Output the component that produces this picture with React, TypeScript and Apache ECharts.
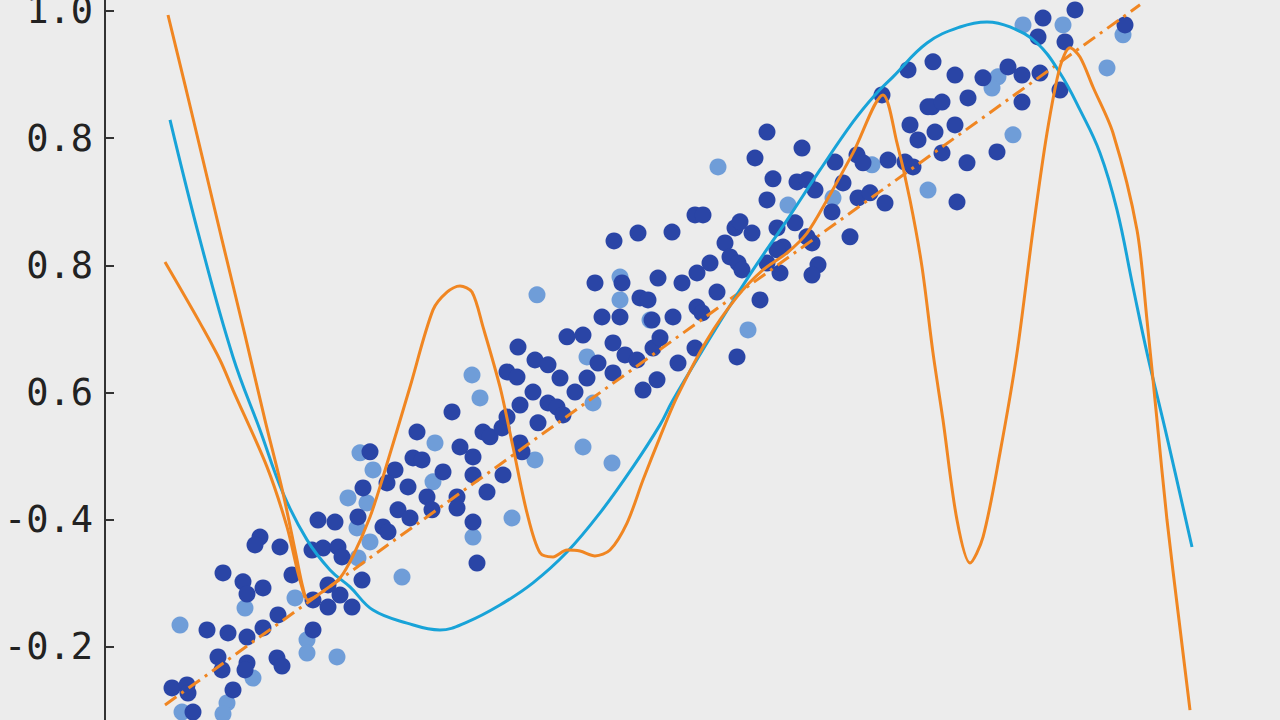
import React, { useEffect, useRef } from "react";
import * as echarts from "echarts";

// y tick positions (axis units) and their printed labels
const yTickValues = [0, 5, 10, 15, 20, 25];
const yTickLabels = ["-0.2", "-0.4", "0.6", "0.8", "0.8", "1.0"];

const darkDots: number[][] = [
  [2.68, -1.61], [3.28, -1.49], [3.32, -1.81], [3.52, -2.56], [4.08, 0.67], [4.92, 0.55], [5.68, 0.39], [6.32, 0.75], [6.92, 1.26],
  [4.52, -0.39], [4.68, -0.9], [5.68, -0.63], [5.6, -0.9], [6.88, -0.43], [7.08, -0.75], [5.12, -1.69], [8.32, 0.67],
  [4.72, 2.91], [5.52, 2.56], [5.68, 2.08], [6.32, 2.32], [7.48, 2.83], [8.92, 2.44], [9.4, 2.04], [10.28, 2.63], [8.32, 1.85], [8.92, 1.57], [9.88, 1.57],
  [6.2, 4.32], [6.0, 4.01], [7.0, 3.93], [8.28, 3.81], [8.72, 3.89], [9.32, 3.93], [9.48, 3.54], [8.52, 4.99], [9.2, 4.91], [10.12, 5.11],
  [10.32, 6.25], [10.6, 7.67], [12.32, 7.43], [12.68, 7.35], [11.6, 6.96], [11.28, 6.45], [12.12, 6.29], [12.88, 5.9], [11.72, 5.39], [12.2, 5.07], [11.12, 4.72], [11.32, 4.52], [13.08, 5.39],
  [13.88, 9.24], [12.48, 8.45], [13.52, 6.88], [14.72, 6.76], [15.92, 6.76], [14.08, 5.9], [15.28, 6.09], [14.08, 5.46], [14.72, 4.91], [14.88, 3.3],
  [14.2, 7.86], [14.72, 7.47], [15.12, 8.45], [15.4, 8.26], [15.88, 8.61], [16.08, 9.04], [16.6, 9.51], [17.32, 8.81], [16.6, 8.02], [16.68, 7.67], [17.72, 9.59], [18.08, 9.43], [18.32, 9.12], [17.12, 10.02],
  [16.08, 10.81], [16.48, 10.61], [16.52, 11.79], [17.2, 11.28], [17.72, 11.09], [18.2, 10.57], [18.8, 10.02], [19.28, 10.57], [19.72, 11.16], [20.32, 10.77], [18.48, 12.19], [19.12, 12.26], [20.32, 11.95], [20.8, 11.48], [21.28, 11.28], [21.92, 11.75], [21.52, 10.1], [22.08, 10.5],
  [19.88, 12.97], [20.6, 12.97], [19.6, 14.31], [20.68, 14.31], [22.12, 14.5], [21.4, 13.72], [21.72, 13.64],
  [26.48, 20.24], [27.88, 19.61], [26.0, 19.22], [26.72, 18.4], [27.68, 18.28], [28.08, 18.36], [26.48, 17.57], [28.4, 17.96], [29.2, 19.06], [30.08, 19.34], [30.32, 19.03], [31.32, 19.14], [32.0, 19.06], [32.32, 18.87], [32.2, 20.52], [32.52, 19.93], [33.08, 21.23], [33.2, 20.24],
  [29.52, 18.24], [29.08, 17.1], [30.12, 17.65], [30.6, 17.85], [31.2, 17.45], [29.8, 16.12], [28.28, 15.88],
  [23.6, 16.98], [23.92, 16.98], [21.32, 16.27], [22.68, 16.31], [25.2, 16.47], [25.4, 16.71], [25.88, 16.27], [24.8, 15.88], [26.88, 16.47], [27.6, 16.67], [27.12, 15.72], [28.08, 16.12],
  [24.2, 15.09], [23.68, 14.7], [25.0, 15.33], [25.32, 15.09], [25.48, 14.82], [24.48, 13.95], [23.08, 14.31], [27.0, 14.7], [26.2, 13.64], [28.52, 15.02], [28.28, 14.62],
  [22.72, 12.97], [23.68, 13.36], [23.88, 13.13], [21.88, 12.85], [25.28, 11.4], [22.2, 12.15], [22.92, 11.16], [23.6, 11.75], [26.48, 15.09], [26.88, 15.61], [20.36, 15.96],
  [38.8, 25.04], [37.52, 24.72], [37.32, 23.98], [38.4, 23.78], [40.8, 24.45], [32.12, 22.68], [33.12, 23.0], [34.0, 22.48], [35.12, 22.37], [36.12, 22.8], [36.68, 22.48], [37.4, 22.56],
  [31.08, 21.7], [32.92, 21.23], [33.48, 21.42], [34.52, 21.58], [36.68, 21.42], [38.2, 21.89], [34.0, 20.52], [35.68, 19.46], [33.48, 19.42], [34.48, 19.03], [34.08, 17.49],
];

const lightDots: number[][] = [
  [3.0, 0.86], [3.08, -2.56], [4.88, -2.2], [4.72, -2.63], [5.92, -1.22], [5.6, 1.53], [7.6, 1.93], [8.08, 0.28], [8.08, -0.24], [9.28, -0.39],
  [10.12, 3.5], [10.08, 4.68], [10.6, 4.13], [9.72, 5.86], [10.48, 5.66], [10.72, 6.96], [10.2, 7.63], [13.2, 8.02], [13.12, 6.49], [11.88, 2.75],
  [14.68, 10.69], [15.0, 9.79], [14.72, 4.32], [16.28, 5.07], [17.2, 7.35], [19.12, 7.86], [20.28, 7.23], [19.52, 9.59], [19.28, 11.4], [17.28, 13.84],
  [20.6, 14.54], [20.6, 13.64], [21.8, 12.85], [24.52, 18.87], [27.32, 17.37], [29.12, 17.65], [25.72, 12.46], [32.92, 17.96], [30.68, 18.95],
  [36.72, 24.45], [38.32, 24.45], [40.72, 24.06], [40.08, 22.76], [35.72, 22.41], [35.48, 21.97], [36.32, 20.13],
];

const cyanCurve: number[][] = [
  [2.6, 20.72], [3.8, 16.0], [5.12, 11.4], [6.2, 8.53], [7.12, 6.05], [8.08, 4.21], [9.0, 3.03], [9.8, 2.36], [10.72, 1.45], [12.08, 0.94], [13.4, 0.67],
  [14.48, 0.98], [15.8, 1.65], [17.12, 2.52], [18.48, 3.73], [19.8, 5.27], [21.12, 7.08], [22.2, 8.73], [22.72, 9.71], [24.6, 12.78], [25.92, 14.82],
  [27.28, 16.78], [28.6, 18.75], [29.92, 20.64], [30.8, 21.7], [31.52, 22.41], [32.88, 23.74], [34.2, 24.37], [35.28, 24.57], [36.2, 24.37], [37.28, 23.74],
  [38.2, 22.56], [39.0, 21.11], [39.8, 19.42], [40.48, 17.18], [41.12, 14.15], [41.68, 11.56], [42.48, 8.25], [43.48, 3.93],
];

const orangeCurveA: number[][] = [
  [2.52, 24.84], [3.2, 22.09], [3.92, 19.14], [4.68, 16.0], [5.6, 12.26], [6.4, 8.92], [7.12, 6.05], [7.64, 3.62], [7.92, 2.32], [8.12, 1.85],
  [8.8, 2.24], [9.4, 2.71], [9.92, 3.58], [10.6, 5.11], [11.12, 6.68], [12.2, 10.22], [13.12, 13.25], [13.68, 13.95], [14.2, 14.19], [14.68, 13.95],
  [15.12, 12.58], [15.8, 10.22], [16.32, 7.86], [16.88, 5.27], [17.4, 3.7], [17.92, 3.54], [18.48, 3.81], [19.0, 3.77], [19.6, 3.58], [20.2, 3.81],
  [20.88, 4.87], [21.52, 6.56], [22.2, 8.25], [22.88, 9.83], [24.08, 12.07], [25.28, 13.76], [26.32, 14.82], [27.28, 15.49], [28.08, 16.27], [28.88, 17.57],
  [29.92, 19.42], [31.12, 21.7], [31.68, 19.81], [32.2, 17.57], [32.68, 14.94], [33.12, 11.56], [33.52, 8.92], [34.08, 4.99], [34.6, 3.3], [35.12, 4.32],
  [35.8, 7.63], [36.48, 11.56], [37.12, 16.39], [37.68, 20.2], [38.2, 22.8], [38.6, 23.55], [39.0, 23.19], [39.52, 22.01], [40.32, 20.2], [41.28, 16.39],
  [41.68, 12.85], [42.08, 8.92], [42.48, 4.99], [42.96, 1.06], [43.4, -2.48],
];

const orangeCurveB: number[][] = [
  [2.4, 15.13], [3.28, 13.64], [3.8, 12.74], [4.6, 11.28], [5.12, 10.1], [6.48, 7.08], [7.28, 4.72], [7.72, 2.91], [8.0, 1.93],
];

const trendLine: number[][] = [
  [2.4, -2.28], [41.4, 25.24],
];

const DARK = "#2a45a6";
const LIGHT = "#6f9dd8";
const ORANGE = "#f08622";
const CYAN = "#18a3d8";

export default function App() {
  const ref = useRef<HTMLDivElement>(null);
  useEffect(() => {
    if (!ref.current) return;
    const chart = echarts.init(ref.current, null, { renderer: "svg" });
    chart.setOption({
      animation: false,
      backgroundColor: "#ececec",
      grid: { left: 105, right: 0, top: 0, bottom: 0, containLabel: false, outerBoundsMode: "none" },
      xAxis: {
        type: "value",
        min: 0,
        max: 47,
        show: false,
      },
      yAxis: {
        type: "value",
        min: -2.87,
        max: 25.43,
        axisLine: { show: true, lineStyle: { color: "#333", width: 2 } },
        axisTick: {
          show: true,
          inside: true,
          length: 9,
          customValues: yTickValues,
          lineStyle: { color: "#333", width: 2 },
        },
        axisLabel: {
          show: true,
          customValues: yTickValues,
          margin: 12,
          color: "#222",
          fontSize: 37,
          fontFamily: "DejaVu Sans Mono",
          formatter: (val: number) => {
            const i = yTickValues.indexOf(Math.round(val));
            return i >= 0 ? yTickLabels[i] : "";
          },
        },
        splitLine: { show: false },
      },
      series: [
        {
          type: "scatter",
          data: lightDots,
          symbolSize: 17,
          clip: false,
          itemStyle: { color: LIGHT, opacity: 1 },
          z: 2,
        },
        {
          type: "scatter",
          data: darkDots,
          symbolSize: 17,
          clip: false,
          itemStyle: { color: DARK, opacity: 1 },
          z: 3,
        },
        {
          type: "line",
          data: trendLine,
          showSymbol: false,
          clip: false,
          lineStyle: { color: ORANGE, width: 3, type: [14, 6, 3, 6] },
          z: 4,
        },
        {
          type: "line",
          data: cyanCurve,
          showSymbol: false,
          smooth: 0.4,
          clip: false,
          lineStyle: { color: CYAN, width: 3 },
          z: 5,
        },
        {
          type: "line",
          data: orangeCurveB,
          showSymbol: false,
          smooth: 0.3,
          clip: false,
          lineStyle: { color: ORANGE, width: 3 },
          z: 6,
        },
        {
          type: "line",
          data: orangeCurveA,
          showSymbol: false,
          smooth: 0.3,
          clip: false,
          lineStyle: { color: ORANGE, width: 3 },
          z: 6,
        },
      ],
    });
    return () => chart.dispose();
  }, []);
  return (
    <div
      ref={ref}
      style={{ position: "fixed", left: 0, top: 0, width: 1280, height: 720, background: "#ececec" }}
    />
  );
}
